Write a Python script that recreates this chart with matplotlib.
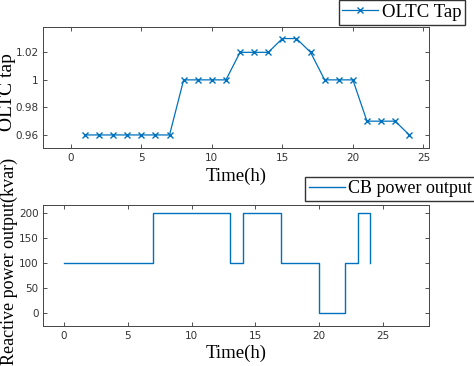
import matplotlib.pyplot as plt

# OLTC tap position per hour
hours = list(range(1, 25))
oltc_tap = [0.96, 0.96, 0.96, 0.96, 0.96, 0.96, 0.96,
            1.00, 1.00, 1.00, 1.00,
            1.02, 1.02, 1.02,
            1.03, 1.03,
            1.02,
            1.00, 1.00, 1.00,
            0.97, 0.97, 0.97,
            0.96]

# CB reactive power output (step changes)
cb_time = [0, 7, 13, 14, 17, 20, 22, 23, 24]
cb_power = [100, 200, 100, 200, 100, 0, 100, 200, 100]

blue = '#0072BD'
serif = 'Liberation Serif'
tick_col = '#333333'

fig = plt.figure(figsize=(4.74, 3.66), dpi=100)

ax1 = fig.add_axes([0.0914, 0.5948, 0.8137, 0.3322])
ax1.plot(hours, oltc_tap, color=blue, marker='x', markersize=4.5, linewidth=0.9,
         label='OLTC Tap')
ax1.set_xlim(-1.95, 25.4)
ax1.set_ylim(0.9503, 1.0386)
ax1.set_xticks([0, 5, 10, 15, 20, 25])
ax1.set_yticks([0.96, 0.98, 1.0, 1.02])
ax1.set_yticklabels(['0.96', '0.98', '1', '1.02'])
ax1.set_xlabel('Time(h)', fontfamily=serif, fontsize=13.5, labelpad=3)
ax1.set_ylabel('OLTC tap', fontfamily=serif, fontsize=14)
ax1.yaxis.set_label_coords(-0.071, 0.46)
ax1.legend(loc='upper right', bbox_to_anchor=(465 / 474, 1.0),
           bbox_transform=fig.transFigure, borderaxespad=0,
           prop={'family': serif, 'size': 13.5}, fancybox=False,
           edgecolor='#333333', framealpha=1, handlelength=1.9,
           borderpad=0.2, handletextpad=0.2)

ax2 = fig.add_axes([0.0914, 0.1101, 0.8137, 0.3306])
ax2.step(cb_time, cb_power, where='post', color=blue, linewidth=1.0,
         label='CB power output')
ax2.set_xlim(-1.62, 28.6)
ax2.set_ylim(-25.4, 216.6)
ax2.set_xticks([0, 5, 10, 15, 20, 25])
ax2.set_yticks([0, 50, 100, 150, 200])
ax2.set_xlabel('Time(h)', fontfamily=serif, fontsize=13.5, labelpad=3)
ax2.set_ylabel('Reactive power output(kvar)', fontfamily=serif, fontsize=13)
ax2.yaxis.set_label_coords(-0.066, 0.53)
ax2.legend(loc='upper left', bbox_to_anchor=(305 / 474, 1 - 176.7 / 366),
           bbox_transform=fig.transFigure, borderaxespad=0,
           prop={'family': serif, 'size': 13}, fancybox=False,
           edgecolor='#333333', framealpha=1, handlelength=2.0,
           borderpad=0.2, handletextpad=0.2)

for ax in (ax1, ax2):
    ax.tick_params(direction='in', top=True, right=True, labelsize=7.5,
                   colors=tick_col, length=3, width=0.6)
    for s in ax.spines.values():
        s.set_linewidth(0.7)
        s.set_color('#444444')

fig.savefig('out.png', dpi=100)
